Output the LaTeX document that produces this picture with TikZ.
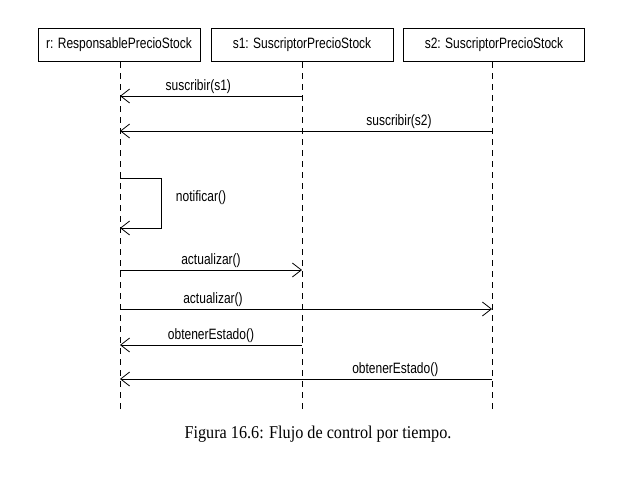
\documentclass[tikz,border=0pt]{standalone}
\usepackage{fontspec}
\setmainfont{Liberation Serif}
\newfontfamily\lab{Liberation Sans}
\usetikzlibrary{arrows.meta}
\newcommand{\nl}[1]{\scalebox{0.8}[1]{#1}}
\begin{document}
\begin{tikzpicture}[x=1pt,y=-1pt,
  obj/.style={draw,thick,minimum height=33pt,inner sep=2pt,font=\lab\fontsize{15}{17}\selectfont},
  life/.style={thick,dash pattern=on 6pt off 5pt},
  msg/.style={-{Straight Barb[length=9pt,width=14pt]},thick},
  lbl/.style={font=\lab\fontsize{15}{17}\selectfont,above,inner sep=2pt}]
\useasboundingbox (0,0) rectangle (638,479);
\node[obj,minimum width=162pt] (r) at (119,45) {\nl{r: ResponsablePrecioStock}};
\node[obj,minimum width=182pt] (s1) at (302,45) {\nl{s1: SuscriptorPrecioStock}};
\node[obj,minimum width=181pt] (s2) at (494,45) {\nl{s2: SuscriptorPrecioStock}};
\coordinate (re) at (120,410); \coordinate (s1e) at (302,410); \coordinate (s2e) at (492,410);
\draw[life] (120,62) -- (re);
\draw[life] (302,62) -- (s1e);
\draw[life] (492,62) -- (s2e);
\coordinate (a1) at (302,96); \coordinate (b1) at (120,96);
\draw[msg] (a1) -- node[lbl,pos=0.57]{\nl{suscribir(s1)}} (b1);
\coordinate (a2) at (492,131); \coordinate (b2) at (120,131);
\draw[msg] (a2) -- node[lbl,pos=0.25]{\nl{suscribir(s2)}} (b2);
\coordinate (a3) at (120,178); \coordinate (b3) at (120,228);
\draw[msg] (a3) -- (161,178) -- (161,228) -- (b3);
\node[font=\lab\fontsize{15}{17}\selectfont] (n3) at (201,198) {\nl{notificar()}};
\coordinate (a4) at (120,270); \coordinate (b4) at (302,270);
\draw[msg] (a4) -- node[lbl]{\nl{actualizar()}} (b4);
\coordinate (a5) at (120,309); \coordinate (b5) at (492,309);
\draw[msg] (a5) -- node[lbl,pos=0.25]{\nl{actualizar()}} (b5);
\coordinate (a6) at (302,345); \coordinate (b6) at (120,345);
\draw[msg] (a6) -- node[lbl]{\nl{obtenerEstado()}} (b6);
\coordinate (a7) at (492,379); \coordinate (b7) at (120,379);
\draw[msg] (a7) -- node[lbl,pos=0.26]{\nl{obtenerEstado()}} (b7);
\node[font=\fontsize{18}{20}\selectfont] (cap) at (318,434) {\scalebox{0.9}[1]{Figura 16.6: Flujo de control por tiempo.}};
\end{tikzpicture}
\end{document}
